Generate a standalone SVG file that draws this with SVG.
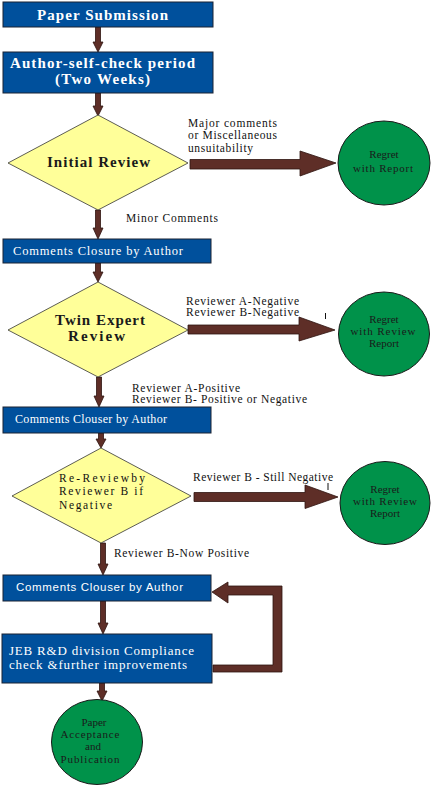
<svg xmlns="http://www.w3.org/2000/svg" width="435" height="788" viewBox="0 0 435 788">
<style>
.box{fill:#00509c;stroke:#1b2233;stroke-width:1}
.dia{fill:#ffff99;stroke:#333;stroke-width:0.8}
.cir{fill:#00924a;stroke:#1a1a1a;stroke-width:1}
.arr{fill:#5e2e27;stroke:#2e1410;stroke-width:0.8}
.wt{fill:#ffffff;font-family:"Liberation Serif",serif}
.wb{fill:#ffffff;font-family:"Liberation Serif",serif;font-size:15px;font-weight:bold}
.ws{fill:#ffffff;font-family:"Liberation Sans",sans-serif;font-size:11.5px}
.dt{fill:#1a1a1a;font-family:"Liberation Serif",serif;font-size:15px;font-weight:bold}
.lb{fill:#111;font-family:"Liberation Serif",serif;font-size:11.5px}
.ct{fill:#1a1a1a;font-family:"Liberation Serif",serif;font-size:11px;text-anchor:middle}
.tick{stroke:#111;stroke-width:1}
</style>
<rect width="435" height="788" fill="#ffffff"/>
<g id="connectors">
<path class="arr" d="M95.5,27 L100.5,27 L100.5,42 L103,42 L98,52 L93,42 L95.5,42 Z"/>
<path class="arr" d="M95.5,93 L100.5,93 L100.5,106 L103,106 L98,116 L93,106 L95.5,106 Z"/>
<path class="arr" d="M95.5,210 L100.5,210 L100.5,228 L103,228 L98,239 L93,228 L95.5,228 Z"/>
<path class="arr" d="M95.5,263 L100.5,263 L100.5,272 L103,272 L98,282 L93,272 L95.5,272 Z"/>
<path class="arr" d="M96.5,377 L101.5,377 L101.5,396 L104,396 L99,407 L94,396 L96.5,396 Z"/>
<path class="arr" d="M98.5,433 L103.5,433 L103.5,439 L106,439 L101,448 L96,439 L98.5,439 Z"/>
<path class="arr" d="M100.5,543 L105.5,543 L105.5,564 L108,564 L103,575 L98,564 L100.5,564 Z"/>
<path class="arr" d="M100.5,601 L105.5,601 L105.5,623 L108,623 L103,634 L98,623 L100.5,623 Z"/>
<path class="arr" d="M99.5,683 L104.5,683 L104.5,691 L107,691 L102,701 L97,691 L99.5,691 Z"/>
<path class="arr" d="M190,159.5 L300,159.5 L300,151 L336,163 L300,176 L300,169 L190,169 Z"/>
<path class="arr" d="M188,325 L299,325 L299,317 L335,330 L299,341 L299,334 L188,334 Z"/>
<path class="arr" d="M194,492.5 L305,492.5 L305,485 L338,497 L305,508.5 L305,501.5 L194,501.5 Z"/>
<path class="arr" d="M213,665 L273,665 L273,595 L228,595 L228,603 L212,592 L228,582 L228,586 L282,586 L282,672 L213,672 Z"/>
<line class="tick" x1="325.5" y1="313" x2="325.5" y2="319"/>
<line class="tick" x1="328" y1="483" x2="328" y2="490"/>
</g>
<g id="n1">
<rect class="box" x="3" y="2" width="210" height="25"/>
<text class="wb" x="37" y="20" textLength="131">Paper Submission</text>
</g>
<g id="n2">
<rect class="box" x="3" y="52" width="210" height="41"/>
<text class="wb" x="10" y="68" textLength="185">Author-self-check period</text>
<text class="wb" x="55" y="84" textLength="95">(Two Weeks)</text>
</g>
<g id="n3">
<polygon class="dia" points="98,115 188,163 98,210 8,163"/>
<text class="dt" x="47" y="167" textLength="103">Initial Review</text>
</g>
<g id="n4">
<ellipse class="cir" cx="384" cy="163" rx="46" ry="42"/>
<text class="ct" x="384" y="158">Regret</text>
<text class="ct" x="383" y="172" textLength="60">with Report</text>
</g>
<g id="n5">
<rect class="box" x="3" y="239" width="208" height="24"/>
<text class="wt" x="13" y="255" font-size="12.5" textLength="170">Comments Closure by Author</text>
</g>
<g id="n6">
<polygon class="dia" points="98,282 188,330 98,377 8,330"/>
<text class="dt" x="55" y="325" font-size="16" textLength="90">Twin Expert</text>
<text class="dt" x="68" y="341" font-size="16" textLength="57">Review</text>
</g>
<g id="n7">
<ellipse class="cir" cx="384" cy="334" rx="45.5" ry="42"/>
<text class="ct" x="384" y="323">Regret</text>
<text class="ct" x="383" y="335" textLength="65">with Review</text>
<text class="ct" x="384" y="347">Report</text>
</g>
<g id="n8">
<rect class="box" x="3" y="407" width="208" height="26"/>
<text class="wt" x="15" y="423" font-size="12" textLength="152">Comments Clouser by Author</text>
</g>
<g id="n9">
<polygon class="dia" points="101,448 191,496 101,543 12,496"/>
<text class="lb" x="59" y="482" font-size="14" textLength="86">Re-Reviewby</text>
<text class="lb" x="59" y="495" font-size="14" textLength="84">Reviewer B if</text>
<text class="lb" x="59" y="509" font-size="14" textLength="53">Negative</text>
</g>
<g id="n10">
<ellipse class="cir" cx="385" cy="503" rx="45" ry="41.5"/>
<text class="ct" x="385" y="493">Regret</text>
<text class="ct" x="385" y="505" textLength="64">with Review</text>
<text class="ct" x="385" y="517">Report</text>
</g>
<g id="n11">
<rect class="box" x="3" y="575" width="208" height="26"/>
<text class="ws" x="16" y="591" textLength="167">Comments Clouser by Author</text>
</g>
<g id="n12">
<rect class="box" x="2" y="634" width="210" height="49"/>
<text class="wt" x="9" y="655" font-size="13" textLength="185">JEB R&amp;D division Compliance</text>
<text class="wt" x="9" y="669" font-size="13" textLength="178">check &amp;further improvements</text>
</g>
<g id="n13">
<ellipse class="cir" cx="97" cy="742" rx="45.5" ry="42.5"/>
<text class="ct" x="94" y="726">Paper</text>
<text class="ct" x="90" y="738" textLength="59">Acceptance</text>
<text class="ct" x="93" y="750">and</text>
<text class="ct" x="90" y="763" textLength="59">Publication</text>
</g>
<g id="labels">
<text class="lb" x="188" y="127" textLength="89">Major comments</text>
<text class="lb" x="188" y="139" textLength="89">or Miscellaneous</text>
<text class="lb" x="188" y="152" textLength="65">unsuitability</text>
<text class="lb" x="126" y="222" textLength="92">Minor Comments</text>
<text class="lb" x="186" y="305" textLength="113">Reviewer A-Negative</text>
<text class="lb" x="186" y="316" textLength="113">Reviewer B-Negative</text>
<text class="lb" x="132" y="392" textLength="108">Reviewer A-Positive</text>
<text class="lb" x="132" y="403" textLength="175">Reviewer B- Positive or Negative</text>
<text class="lb" x="193" y="481" textLength="140">Reviewer B - Still Negative</text>
<text class="lb" x="114" y="557" textLength="135">Reviewer B-Now Positive</text>
</g>
</svg>
